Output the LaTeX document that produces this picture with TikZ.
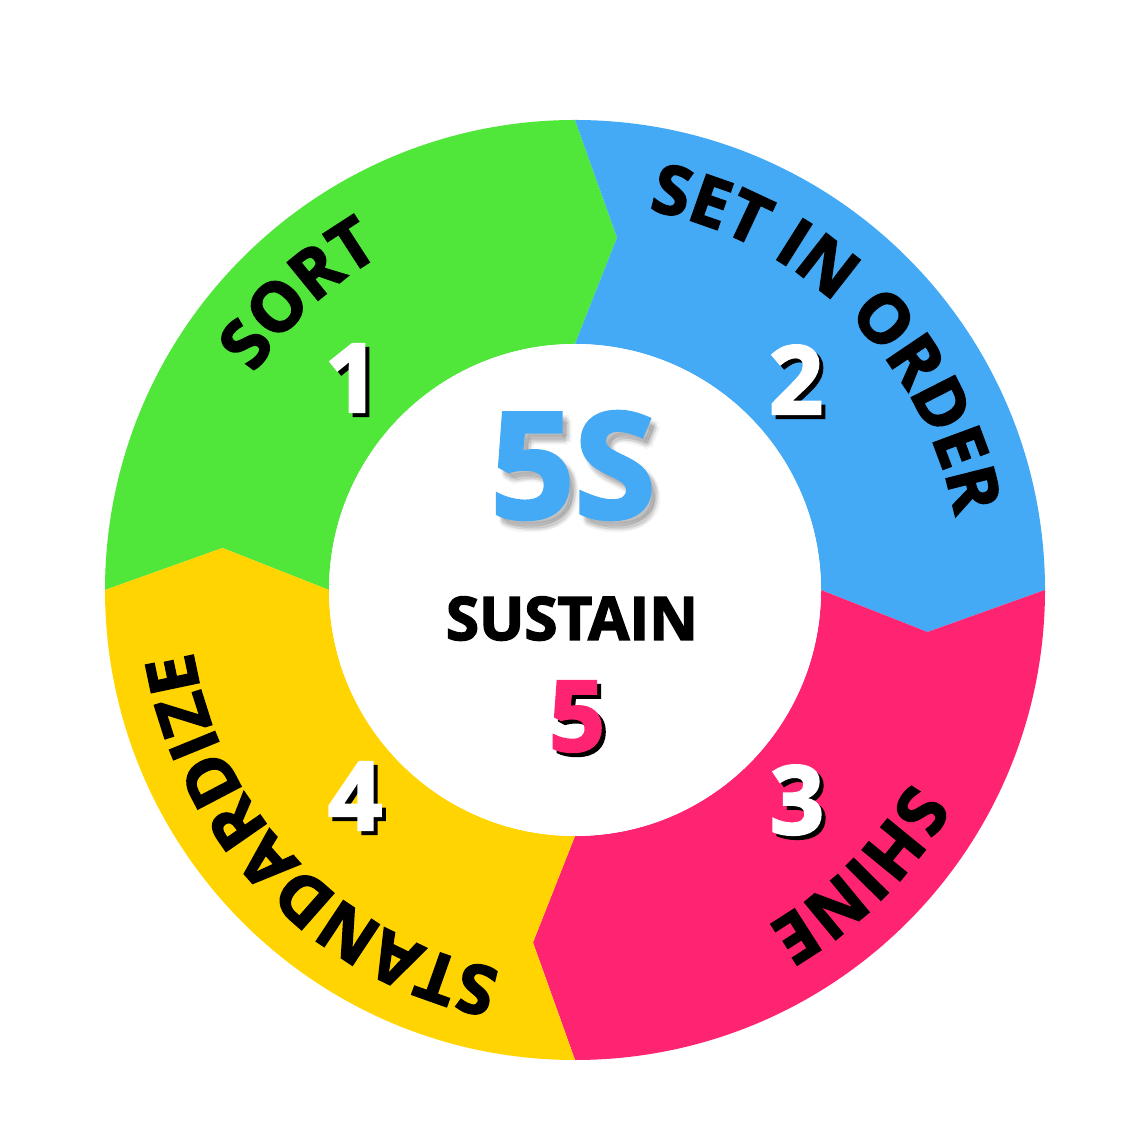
\documentclass[tikz,border=0pt]{standalone}
\usepackage{fontspec}
\setmainfont{Open Sans}[BoldFeatures={FakeBold=2.5}]
\usetikzlibrary{decorations.text}
\definecolor{cgreen}{HTML}{50E63A}
\definecolor{cblue}{HTML}{44AAF6}
\definecolor{cpink}{HTML}{FF2472}
\definecolor{cyellow}{HTML}{FFD400}
\newcommand\arcfont{\fontsize{68}{68}\selectfont\bfseries}
\newcommand\segfill[2]{%
  \fill[#2] (#1:470pt) arc[start angle=#1, end angle=#1-90, radius=470pt]
    -- (#1-96.8:355pt) -- (#1-90:246pt)
    arc[start angle=#1-90, end angle=#1, radius=246pt]
    -- (#1-6.8:355pt) -- cycle;}
\newcommand\arctext[2]{%
  \path[decorate, decoration={text along path, text={|\arcfont|#2}, text align=center}]
    (#1+90:387pt) arc[start angle=#1+90, end angle=#1-90, radius=387pt];}
\tikzset{
  numtxt/.style={font=\fontsize{95}{95}\selectfont\bfseries, inner sep=0pt, anchor=base},
  bigtxt/.style={font=\fontsize{147}{147}\selectfont\bfseries, inner sep=0pt, anchor=base},
  shadowtxt/.style={bigtxt, black, opacity=0.045},
}
\begin{document}
\begin{tikzpicture}[x=1pt,y=1pt]
\useasboundingbox (0,0) rectangle (1134,1134);
\fill[white] (0,0) rectangle (1134,1134);
\begin{scope}[shift={(575,544)}]
  \segfill{180}{cgreen}
  \segfill{90}{cblue}
  \segfill{0}{cpink}
  \segfill{-90}{cyellow}
  \fill[white] (0,0) circle[radius=246pt];
  \arctext{133}{SORT}
  \arctext{45}{SET IN ORDER}
  \arctext{-45}{SHINE}
  \arctext{-136}{STANDARDIZE}
\end{scope}
% numbers
\node[numtxt, black] (n1s) at (356,718) {1};
\node[numtxt, white] (n1) at (352,722) {1};
\node[numtxt, black] (n2s) at (800,716) {2};
\node[numtxt, white] (n2) at (796,720) {2};
\node[numtxt, black] (n3s) at (801,296) {3};
\node[numtxt, white] (n3) at (797,300) {3};
\node[numtxt, black] (n4s) at (359,300) {4};
\node[numtxt, white] (n4) at (355,304) {4};
% centre
\node[shadowtxt] (t5ss1) at (577,611) {5S};
\node[shadowtxt] (t5ss2) at (579,609) {5S};
\node[shadowtxt] (t5ss3) at (576,608) {5S};
\node[shadowtxt] (t5ss4) at (580,612) {5S};
\node[shadowtxt] (t5ss5) at (582,607) {5S};
\node[shadowtxt] (t5ss6) at (578,605) {5S};
\node[bigtxt, cblue] (t5s) at (573,616) {5S};
\node[font=\fontsize{60}{60}\selectfont\bfseries, inner sep=0pt, anchor=base, black] (sus) at (572,494) {SUSTAIN};
\node[font=\fontsize{98}{98}\selectfont\bfseries, inner sep=0pt, anchor=base, black] (n5s) at (581,379) {5};
\node[font=\fontsize{98}{98}\selectfont\bfseries, inner sep=0pt, anchor=base, cpink] (n5) at (577,383) {5};
\end{tikzpicture}
\end{document}
